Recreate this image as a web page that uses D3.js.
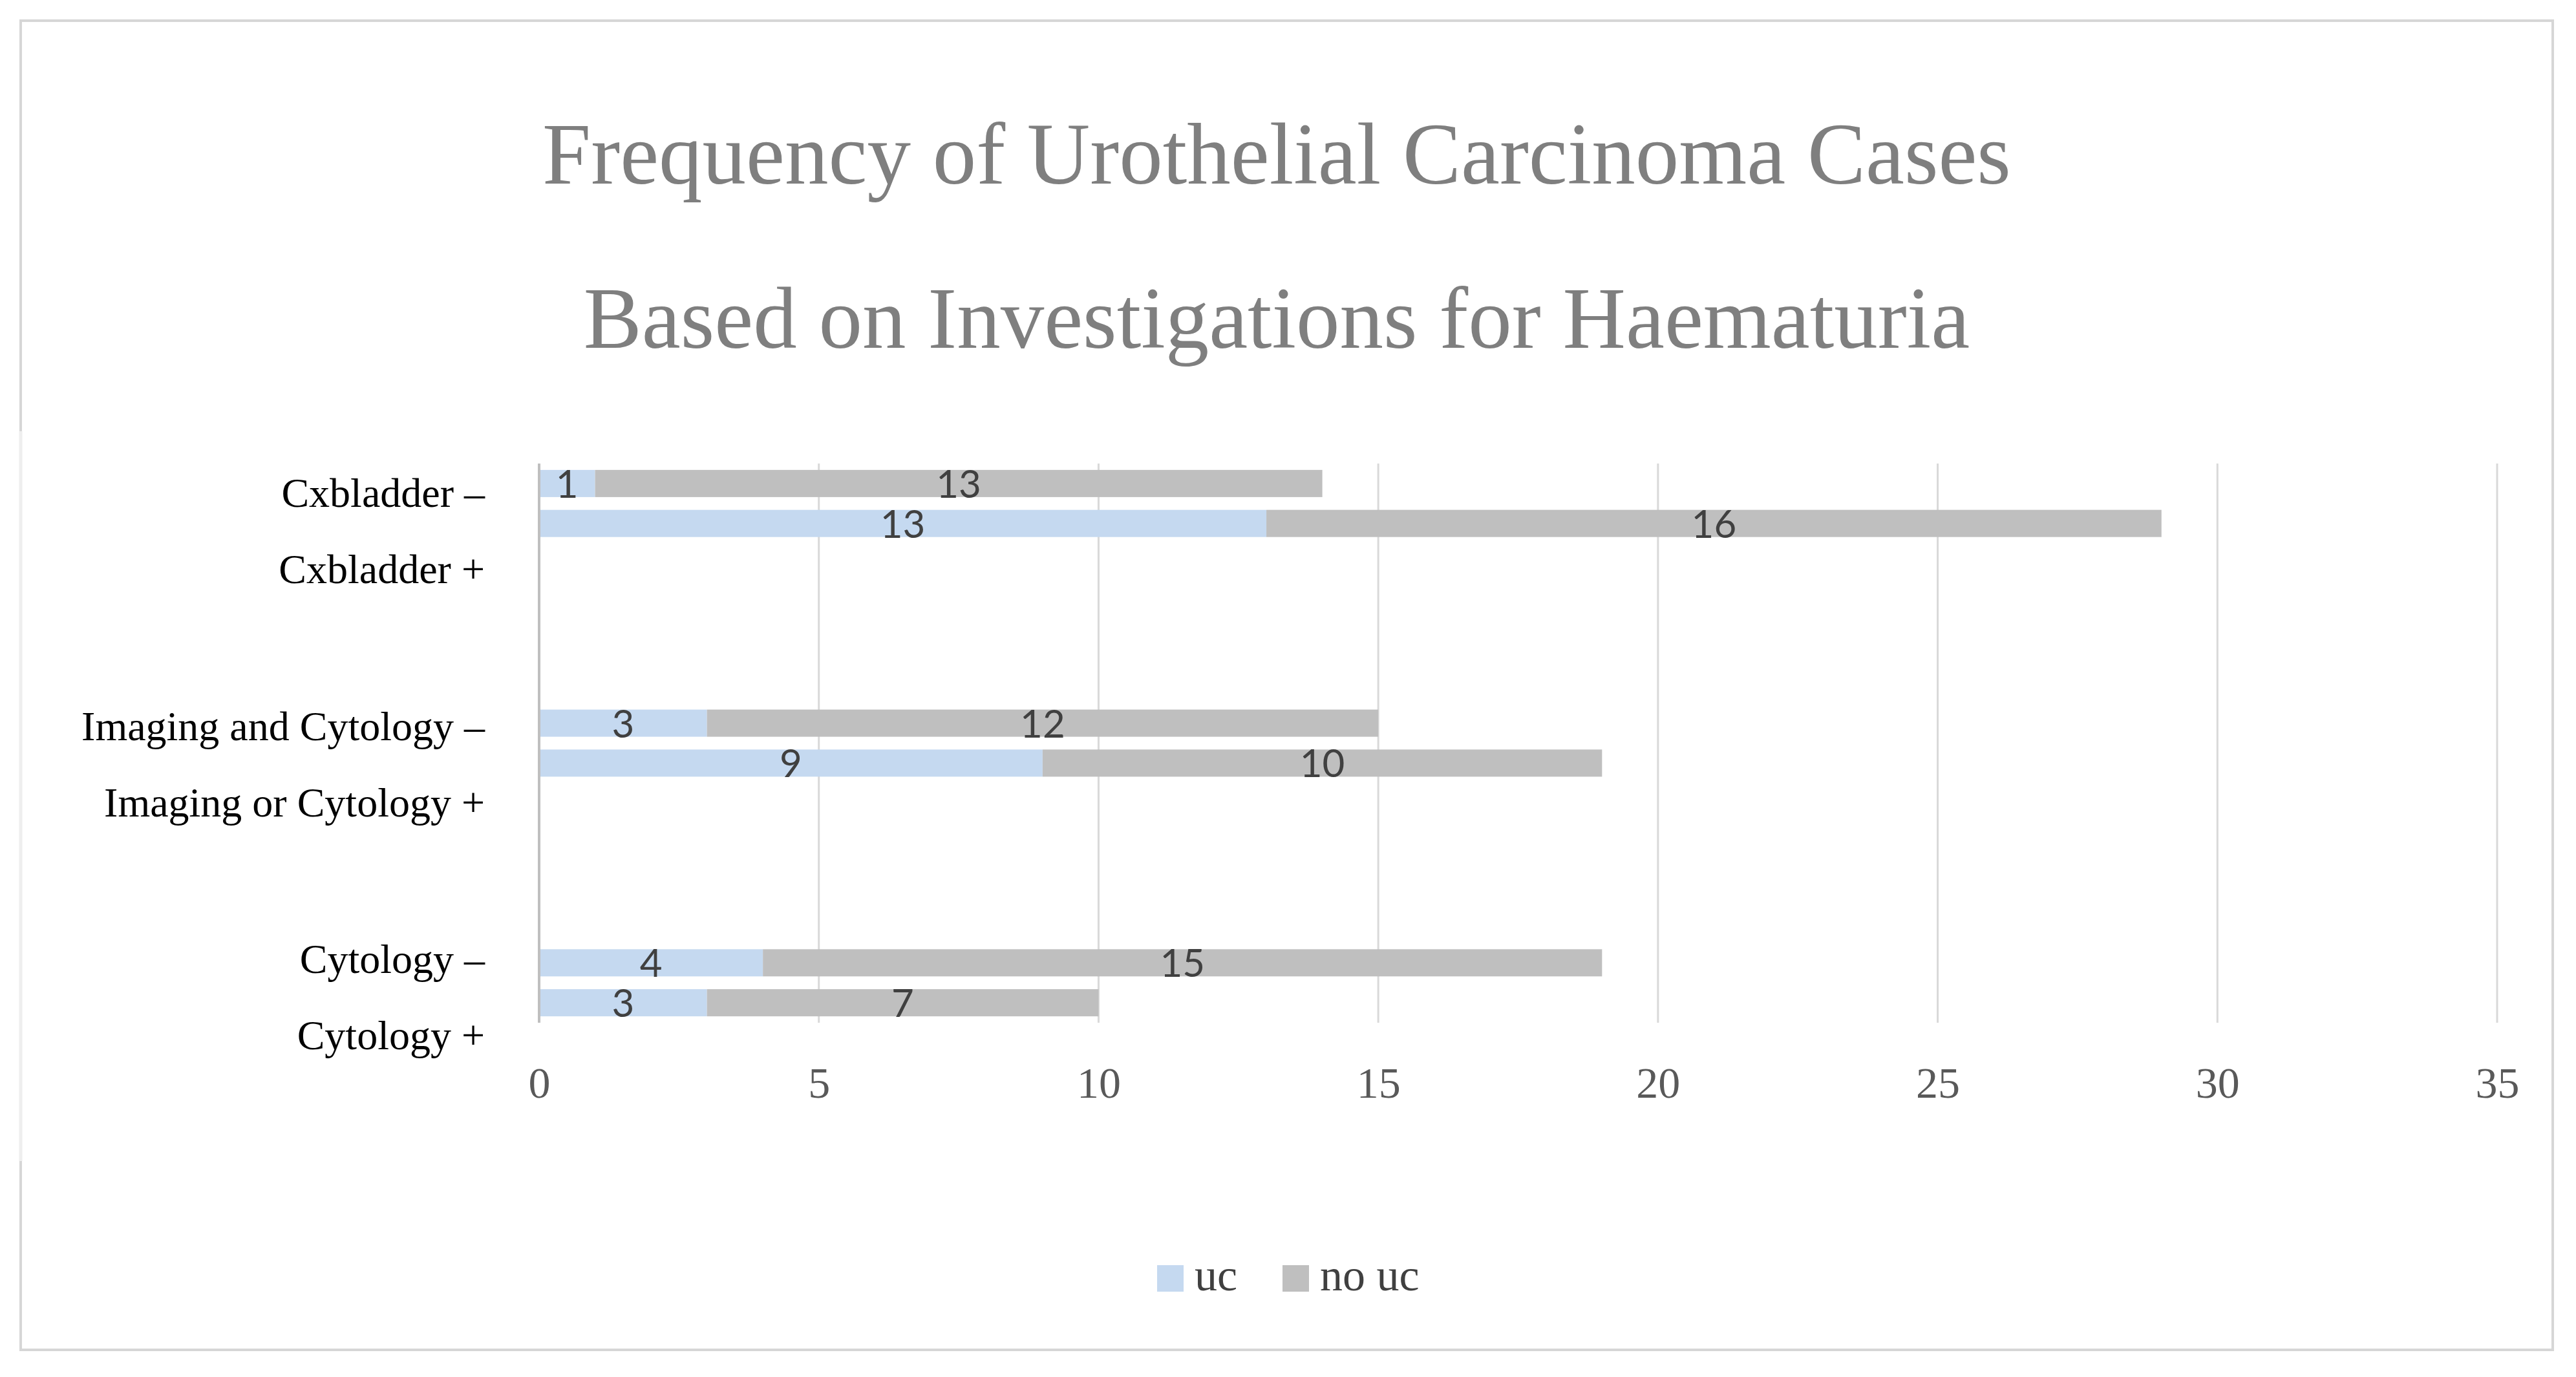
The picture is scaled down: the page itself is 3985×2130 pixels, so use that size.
<!DOCTYPE html>
<html>
<head>
<meta charset="utf-8">
<script src="https://cdn.jsdelivr.net/npm/d3@7"></script>
<style>
  html, body { margin: 0; padding: 0; background: #ffffff; }
  svg { display: block; }
</style>
</head>
<body>
<svg id="chart" width="3985" height="2130"></svg>
<script>
// ---------------- data ----------------
const titleLines = ["Frequency of Urothelial Carcinoma Cases", "Based on Investigations for Haematuria"];
const groups = ["Cxbladder", "Imaging and Cytology", "Cytology"];
const categories = ["Cxbladder –", "Cxbladder +", "Imaging and Cytology –", "Imaging or Cytology +", "Cytology –", "Cytology +"];
const categoryGroup = [0, 0, 1, 1, 2, 2];
const seriesNames = ["uc", "no uc"];
const ucValues = [1, 13, 3, 9, 4, 3];
const noUcValues = [13, 16, 12, 10, 15, 7];
const xTicks = [0, 5, 10, 15, 20, 25, 30, 35];

// ---------------- layout ----------------
const W = 3985, H = 2130;
const plot = { left: 834, right: 3863, top: 717, bottom: 1582 };
const gapSlots = 4;            // empty category slots between groups
const colors = { "uc": "#c5d9f0", "no uc": "#bfbfbf" };
const serif = "'Liberation Serif', 'DejaVu Serif', serif";
const sans = "Lato, 'Open Sans', 'Liberation Sans', sans-serif";

const svg = d3.select("#chart");

// frame
svg.append("rect").attr("x", 0).attr("y", 0).attr("width", W).attr("height", H).attr("fill", "#fff");
svg.append("rect")
  .attr("x", 32).attr("y", 32).attr("width", 3917).attr("height", 2056)
  .attr("fill", "#fff").attr("stroke", "#d6d6d6").attr("stroke-width", 4);
svg.append("line").attr("x1", 32).attr("x2", 32).attr("y1", 667).attr("y2", 1796)
  .attr("stroke", "#eeeeee").attr("stroke-width", 5);

// slots: each category gets a slot, with gap slots between groups
const slotKeys = [];
categories.forEach((c, i) => {
  if (i > 0 && categoryGroup[i] !== categoryGroup[i - 1]) {
    for (let k = 0; k < gapSlots; k++) slotKeys.push("gap" + i + "_" + k);
  }
  slotKeys.push(c);
});

const y = d3.scaleBand().domain(slotKeys).range([plot.top, plot.bottom])
  .paddingInner(0.32).paddingOuter(0.16);
const x = d3.scaleLinear().domain([0, 35]).range([plot.left, plot.right]);

// gridlines
svg.append("g").selectAll("line").data(xTicks.filter(t => t > 0)).join("line")
  .attr("x1", d => x(d)).attr("x2", d => x(d))
  .attr("y1", plot.top).attr("y2", plot.bottom)
  .attr("stroke", "#d9d9d9").attr("stroke-width", 3);

// stacked data
const rows = categories.map((c, i) => ({ cat: c, "uc": ucValues[i], "no uc": noUcValues[i] }));
const stack = d3.stack().keys(seriesNames)(rows);

const barG = svg.append("g");
stack.forEach(layer => {
  barG.append("g").selectAll("rect").data(layer).join("rect")
    .attr("x", d => x(d[0]))
    .attr("width", d => x(d[1]) - x(d[0]))
    .attr("y", d => y(d.data.cat))
    .attr("height", y.bandwidth())
    .attr("fill", colors[layer.key]);
});

// data labels
stack.forEach(layer => {
  barG.append("g").selectAll("text").data(layer).join("text")
    .attr("x", d => x((d[0] + d[1]) / 2))
    .attr("y", d => y(d.data.cat) + y.bandwidth() + 1)
    .attr("text-anchor", "middle")
    .attr("font-family", sans)
    .attr("font-size", 60)
    .attr("fill", "#404040")
    .text(d => d[1] - d[0]);
});

// y axis line
svg.append("line").attr("x1", plot.left).attr("x2", plot.left)
  .attr("y1", plot.top).attr("y2", plot.bottom)
  .attr("stroke", "#bfbfbf").attr("stroke-width", 4);

// x axis tick labels via d3 axis
const xAxis = d3.axisBottom(x).tickValues(xTicks).tickSize(0).tickPadding(0).tickFormat(d3.format("d"));
const xg = svg.append("g").attr("transform", `translate(0,${plot.bottom})`).call(xAxis);
xg.select(".domain").remove();
xg.selectAll("text")
  .attr("font-family", serif).attr("font-size", 68).attr("fill", "#595959")
  .attr("dy", null).attr("y", 116);

// category labels (offset from their bars as in the original)
const step = y.step();
svg.append("g").selectAll("text").data(categories).join("text")
  .attr("x", 750)
  .attr("y", (d, i) => {
    const first = categories.findIndex((c, j) => categoryGroup[j] === categoryGroup[i]);
    const base = y(categories[first]) + y.bandwidth() / 2 + 36 - 10 * categoryGroup[i];
    return base + (i - first) * 1.91 * step;
  })
  .attr("text-anchor", "end")
  .attr("font-family", serif).attr("font-size", 64).attr("fill", "#000")
  .text(d => d);

// title
const titleG = svg.append("g");
const tl = titleG.selectAll("text").data(titleLines).join("text")
  .attr("x", 1975)
  .attr("y", (d, i) => 284 + i * 254)
  .attr("text-anchor", "middle")
  .attr("font-family", serif).attr("font-size", 132).attr("fill", "#7f7f7f")
  .text(d => d);
const w0 = tl.nodes()[0].getComputedTextLength();
const fs = 132 * 2272 / w0;
tl.attr("font-size", fs);

// legend
const legend = svg.append("g");
const legendItems = [{ k: "uc", x: 1790 }, { k: "no uc", x: 1984 }];
legendItems.forEach(it => {
  legend.append("rect").attr("x", it.x).attr("y", 1957).attr("width", 41).attr("height", 41)
    .attr("fill", colors[it.k]);
  legend.append("text").attr("x", it.x + 58).attr("y", 1996)
    .attr("font-family", serif).attr("font-size", 70).attr("fill", "#404040")
    .text(it.k);
});
</script>
</body>
</html>
